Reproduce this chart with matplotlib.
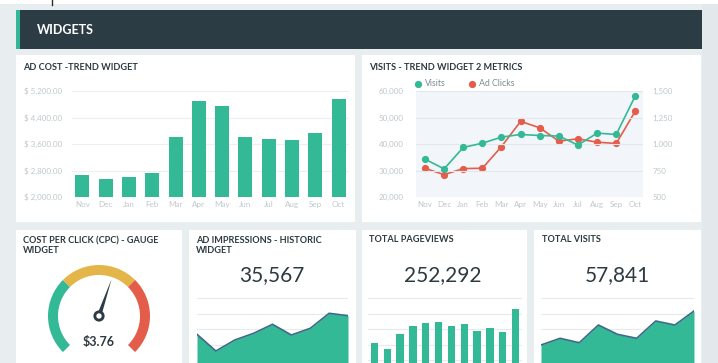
import matplotlib
matplotlib.use('Agg')
import matplotlib.pyplot as plt
from matplotlib.patches import Rectangle, Wedge, Circle, Polygon
import numpy as np

plt.rcParams['font.family'] = ['Lato', 'DejaVu Sans']

# ---------------- data ----------------
months = ['Nov', 'Dec', 'Jan', 'Feb', 'Mar', 'Apr', 'May', 'Jun', 'Jul', 'Aug', 'Sep', 'Oct']
ad_cost = [2656, 2555, 2616, 2727, 3807, 4897, 4746, 3807, 3746, 3706, 3928, 4968]
ad_cost_ticks = [2000, 2800, 3600, 4400, 5200]

visits = [34300, 30600, 38700, 40300, 42600, 43600, 43200, 43000, 39600, 44100, 43600, 58200]
ad_clicks = [771, 711, 768, 771, 976, 1213, 1153, 1027, 1049, 1017, 1005, 1311]
visits_ticks = [20000, 30000, 40000, 50000, 60000]
clicks_ticks = [500, 750, 1000, 1250, 1500]
series_names = ['Visits', 'Ad Clicks']

cpc_value = 3.76
cpc_min, cpc_max = 0.0, 6.6

impressions_total = 35567
impressions_hist = [2658, 1581, 2290, 2723, 3303, 2613, 3045, 4013, 3858]

pageviews_total = 252292
pageviews_hist = [2116, 1690, 2677, 3213, 3368, 3452, 3213, 3303, 2871, 3084, 2787, 4271]

visits_total = 57841
visits_hist = [1968, 2400, 2116, 3258, 2658, 2400, 3516, 3258, 4161]

# ---------------- style ----------------
TEAL = '#33b996'
RED = '#e35d4a'
YELLOW = '#e4b64a'
DARK = '#2c3c44'
TXT = '#2d3a40'
TICK = '#bfc7cc'
GRID = '#eceff1'

W, H = 718, 363
fig = plt.figure(figsize=(W / 100, H / 100), dpi=100)
fig.patch.set_facecolor('#e8edef')


def px_axes(x0, y0, x1, y1, **kw):
    return fig.add_axes([x0 / W, 1 - y1 / H, (x1 - x0) / W, (y1 - y0) / H], **kw)


bg = fig.add_axes([0, 0, 1, 1])
bg.set_xlim(0, W)
bg.set_ylim(H, 0)
bg.axis('off')
bg.add_patch(Rectangle((0, 0), W, 4, color='white', lw=0))
bg.plot([52, 52], [0, 5], color='#3a2a20', lw=1)
bg.add_patch(Rectangle((702, 4), 16, H, color='#e2e8eb', lw=0))

# header
bg.add_patch(Rectangle((16, 10), 686, 39, color=DARK, lw=0))
bg.add_patch(Rectangle((16, 10), 4, 39, color='#34b796', lw=0))
bg.text(37, 30, 'WIDGETS', color='white', fontsize=9, fontweight='bold', va='center', ha='left')

# panels
for (x0, y0, x1, y1) in [(16, 55, 355, 222), (362, 55, 701, 222),
                         (16, 230, 182, 370), (189, 230, 356, 370),
                         (362, 230, 527, 370), (534, 230, 701, 370)]:
    bg.add_patch(Rectangle((x0, y0), x1 - x0, y1 - y0, color='white', lw=0))

title_kw = dict(color=TXT, fontsize=6.6, fontweight='bold', va='center', ha='left')
bg.text(23, 67, 'AD COST -TREND WIDGET', **title_kw)
bg.text(369, 67, 'VISITS - TREND WIDGET 2 METRICS', **title_kw)
bg.text(23, 245.5, 'COST PER CLICK (CPC) - GAUGE\nWIDGET', linespacing=1.15, **title_kw)
bg.text(196, 245.5, 'AD IMPRESSIONS - HISTORIC\nWIDGET', linespacing=1.15, **title_kw)
bg.text(369, 240, 'TOTAL PAGEVIEWS', **title_kw)
bg.text(542, 240, 'TOTAL VISITS', **title_kw)

# ---------------- ad cost bars ----------------
ax1 = px_axes(72, 91, 349, 197)
x = np.arange(len(months))
ax1.bar(x, ad_cost, width=0.6, color=TEAL, zorder=3)
ax1.set_ylim(ad_cost_ticks[0], ad_cost_ticks[-1])
ax1.set_xlim(-0.45, len(months) - 0.55)
ax1.set_yticks(ad_cost_ticks)
ax1.set_yticklabels(['$ {:,.2f}'.format(v) for v in ad_cost_ticks])
ax1.set_xticks(x)
ax1.set_xticklabels(months)
ax1.grid(axis='y', color=GRID, lw=0.8, zorder=0)
ax1.tick_params(length=0, labelsize=5.8, labelcolor=TICK)
ax1.tick_params(axis='y', pad=7)
ax1.tick_params(axis='x', pad=3)
for s in ax1.spines.values():
    s.set_visible(False)
ax1.set_facecolor('none')

# ---------------- visits / ad clicks ----------------
ax2 = px_axes(416, 91, 643, 197)
ax3 = ax2.twinx()
ax3.patch.set_visible(True)
ax3.patch.set_facecolor('#f2f5f9')
ax3.plot(x, ad_clicks, color=RED, lw=1.2, marker='o', ms=4.2, zorder=3)
ax3.set_ylim(clicks_ticks[0], clicks_ticks[-1])
ax3.set_yticks(clicks_ticks)
ax3.set_yticklabels(['{:,}'.format(v) for v in clicks_ticks])
ax3.tick_params(length=0, labelsize=5.8, labelcolor=TICK, pad=7)
for s in ax3.spines.values():
    s.set_visible(False)

ax2.plot(x, visits, color=TEAL, lw=1.2, marker='o', ms=4.2, zorder=4)
ax2.set_ylim(visits_ticks[0], visits_ticks[-1])
ax2.set_xlim(-0.47, len(months) - 0.6)
ax2.set_yticks(visits_ticks)
ax2.set_yticklabels(['{:,}'.format(v) for v in visits_ticks])
ax2.set_xticks(x)
ax2.set_xticklabels(months)
ax2.grid(axis='y', color='#e2e7ec', lw=0.8, zorder=0)
ax2.tick_params(length=0, labelsize=5.8, labelcolor=TICK)
ax2.tick_params(axis='y', pad=9)
ax2.tick_params(axis='x', pad=3)
for s in ax2.spines.values():
    s.set_visible(False)
ax2.set_zorder(3)
ax3.set_zorder(2)
ax2.patch.set_visible(False)

# legend
for (lx, name, col) in [(418, series_names[0], TEAL), (472, series_names[1], RED)]:
    bg.plot(lx, 84, 'o', color=col, ms=4.2)
    bg.text(lx + 7, 84, name, fontsize=6.3, color='#7f8b91', va='center', ha='left')

# ---------------- gauge ----------------
axg = px_axes(44, 261, 154, 371)
axg.set_xlim(-55, 55)
axg.set_ylim(-55, 55)
axg.axis('off')
R, Wd = 51, 10
for (t1, t2, c) in [(135, 225, TEAL), (45, 135, YELLOW), (-45, 45, RED)]:
    axg.add_patch(Wedge((0, 0), R, t1, t2, width=Wd, color=c, lw=0))
frac = (cpc_value - cpc_min) / (cpc_max - cpc_min)
ang = np.deg2rad(225 - 270 * frac)
L = 39
tip = (L * np.cos(ang), L * np.sin(ang))
perp = (np.cos(ang + np.pi / 2), np.sin(ang + np.pi / 2))
bw = 2.2
axg.add_patch(Polygon([tip, (bw * perp[0], bw * perp[1]), (-bw * perp[0], -bw * perp[1])],
                      closed=True, color=DARK, lw=0))
axg.add_patch(Circle((0, 0), 5.6, color=DARK, lw=0))
axg.add_patch(Circle((0, 0), 2.7, color='white', lw=0))
axg.text(0, -26, '${:.2f}'.format(cpc_value), fontsize=9, fontweight='bold', color=TXT,
         ha='center', va='center')

# ---------------- small widgets ----------------
num_kw = dict(fontsize=15, fontweight='normal', color=TXT, ha='center', va='center')
bg.text(272, 275, '{:,}'.format(impressions_total), **num_kw)
bg.text(443, 275, '{:,}'.format(pageviews_total), **num_kw)
bg.text(617, 275, '{:,}'.format(visits_total), **num_kw)


def small_axes(x0, x1):
    a = px_axes(x0, 282.5, x1, 375.5)
    a.set_ylim(0, 6000)
    a.set_yticks([1000, 2000, 3000, 4000, 5000])
    a.grid(axis='y', color='#e6eaec', lw=0.8, zorder=0)
    a.tick_params(length=0, labelleft=False, labelbottom=False)
    for s in a.spines.values():
        s.set_visible(False)
    a.set_facecolor('none')
    return a


a4 = small_axes(197, 348)
xi = np.arange(len(impressions_hist))
a4.fill_between(xi, impressions_hist, 0, color=TEAL, lw=0, zorder=2)
a4.plot(xi, impressions_hist, color='#3d6a88', lw=1.2, zorder=3)
a4.set_xlim(0, len(impressions_hist) - 1)

a5 = small_axes(368, 522)
xp = np.arange(len(pageviews_hist))
a5.bar(xp, pageviews_hist, width=0.58, color=TEAL, zorder=2)
a5.set_xlim(-0.5, len(pageviews_hist) - 0.5)

a6 = small_axes(541, 694)
xv = np.arange(len(visits_hist))
a6.fill_between(xv, visits_hist, 0, color=TEAL, lw=0, zorder=2)
a6.plot(xv, visits_hist, color='#3d6a88', lw=1.2, zorder=3)
a6.set_xlim(0, len(visits_hist) - 1)

fig.savefig('out.png', dpi=100, facecolor=fig.get_facecolor())
